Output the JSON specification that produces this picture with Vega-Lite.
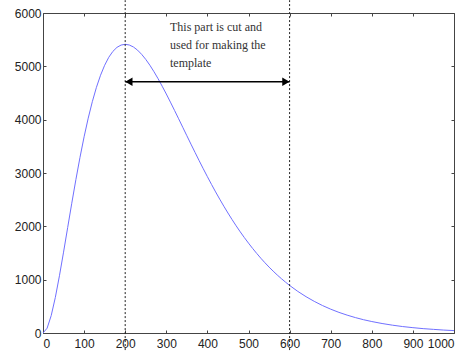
{
  "$schema": "https://vega.github.io/schema/vega-lite/v6.json",
  "width": 411,
  "height": 320,
  "autosize": "none",
  "padding": {"left": 43, "top": 13, "right": 20, "bottom": 28},
  "background": "white",
  "config": {
    "view": {"stroke": null},
    "axis": {
      "grid": false,
      "domainColor": "#444",
      "tickColor": "#444",
      "labelColor": "#222",
      "labelFont": "Liberation Sans",
      "labelFontSize": 12,
      "tickSize": -3,
      "labelPadding": 5,
      "format": "d",
      "title": null
    }
  },
  "datasets": {
    "curve": [
      {"x":0,"y":0},{"x":10,"y":90},{"x":20,"y":328},{"x":30,"y":667},{"x":40,"y":1073},{"x":50,"y":1516},{"x":60,"y":1976},{"x":70,"y":2433},{"x":80,"y":2876},{"x":90,"y":3293},{"x":100,"y":3679},{"x":110,"y":4028},{"x":120,"y":4337},{"x":130,"y":4606},{"x":140,"y":4833},{"x":150,"y":5020},{"x":160,"y":5169},{"x":170,"y":5280},{"x":180,"y":5356},{"x":190,"y":5399},{"x":200,"y":5413},{"x":210,"y":5400},{"x":220,"y":5363},{"x":230,"y":5304},{"x":240,"y":5225},{"x":250,"y":5130},{"x":260,"y":5021},{"x":270,"y":4899},{"x":280,"y":4768},{"x":290,"y":4627},{"x":300,"y":4481},{"x":310,"y":4329},{"x":320,"y":4174},{"x":330,"y":4017},{"x":340,"y":3858},{"x":350,"y":3699},{"x":360,"y":3541},{"x":370,"y":3385},{"x":380,"y":3230},{"x":390,"y":3079},{"x":400,"y":2931},{"x":410,"y":2786},{"x":420,"y":2645},{"x":430,"y":2509},{"x":440,"y":2377},{"x":450,"y":2250},{"x":460,"y":2127},{"x":470,"y":2009},{"x":480,"y":1896},{"x":490,"y":1788},{"x":500,"y":1685},{"x":510,"y":1586},{"x":520,"y":1492},{"x":530,"y":1402},{"x":540,"y":1317},{"x":550,"y":1236},{"x":560,"y":1160},{"x":570,"y":1087},{"x":580,"y":1019},{"x":590,"y":954},{"x":600,"y":892},{"x":620,"y":780},{"x":640,"y":681},{"x":660,"y":593},{"x":680,"y":515},{"x":700,"y":447},{"x":720,"y":387},{"x":740,"y":335},{"x":760,"y":289},{"x":780,"y":249},{"x":800,"y":215},{"x":825,"y":178},{"x":850,"y":147},{"x":875,"y":121},{"x":900,"y":100},{"x":925,"y":82},{"x":950,"y":68},{"x":975,"y":55},{"x":1000,"y":45}
    ],
    "vlines": [
      {"x": 200, "y": -320, "y2": 6240},
      {"x": 600, "y": -320, "y2": 6240}
    ],
    "arrow": [
      {"x": 200, "x2": 600, "y": 4712}
    ],
    "heads": [
      {"x": 209, "y": 4712, "dir": "triangle-left"},
      {"x": 591, "y": 4712, "dir": "triangle-right"}
    ],
    "notes": [
      {"x": 309, "y": 5662, "text": "This part is cut and"},
      {"x": 309, "y": 5325, "text": "used for making the"},
      {"x": 309, "y": 4987, "text": "template"}
    ]
  },
  "layer": [
    {
      "data": {"name": "curve"},
      "mark": {"type": "line", "color": "#7070ff", "strokeWidth": 1},
      "encoding": {
        "x": {"field": "x", "type": "quantitative",
              "scale": {"domain": [0, 1000], "nice": false},
              "axis": {"orient": "bottom", "labelPadding": 8, "values": [0,100,200,300,400,500,600,700,800,900,1000]}},
        "y": {"field": "y", "type": "quantitative",
              "scale": {"domain": [0, 6000], "nice": false},
              "axis": {"orient": "left", "values": [0,1000,2000,3000,4000,5000,6000]}}
      }
    },
    {
      "data": {"name": "vlines"},
      "mark": {"type": "rule", "color": "#222", "strokeWidth": 1, "strokeDash": [2, 2]},
      "encoding": {
        "x": {"field": "x", "type": "quantitative",
              "scale": {"domain": [0, 1000], "nice": false},
              "axis": {"orient": "top", "labels": false, "values": [0,100,200,300,400,500,600,700,800,900,1000]}},
        "y": {"field": "y", "type": "quantitative",
              "scale": {"domain": [0, 6000], "nice": false},
              "axis": {"orient": "right", "labels": false, "values": [0,1000,2000,3000,4000,5000,6000]}},
        "y2": {"field": "y2"}
      }
    },
    {
      "data": {"name": "arrow"},
      "mark": {"type": "rule", "color": "#000", "strokeWidth": 1.5},
      "encoding": {
        "x": {"field": "x", "type": "quantitative", "scale": {"domain": [0, 1000], "nice": false}, "axis": null},
        "x2": {"field": "x2"},
        "y": {"field": "y", "type": "quantitative", "scale": {"domain": [0, 6000], "nice": false}, "axis": null}
      }
    },
    {
      "data": {"name": "heads"},
      "mark": {"type": "point", "filled": true, "color": "#000", "size": 70, "opacity": 1},
      "encoding": {
        "x": {"field": "x", "type": "quantitative", "scale": {"domain": [0, 1000], "nice": false}, "axis": null},
        "y": {"field": "y", "type": "quantitative", "scale": {"domain": [0, 6000], "nice": false}, "axis": null},
        "shape": {"field": "dir", "type": "nominal", "scale": null, "legend": null}
      }
    },
    {
      "data": {"name": "notes"},
      "mark": {"type": "text", "align": "left", "baseline": "alphabetic", "font": "Liberation Serif", "fontSize": 12, "color": "#333"},
      "encoding": {
        "x": {"field": "x", "type": "quantitative", "scale": {"domain": [0, 1000], "nice": false}, "axis": null},
        "y": {"field": "y", "type": "quantitative", "scale": {"domain": [0, 6000], "nice": false}, "axis": null},
        "text": {"field": "text"}
      }
    }
  ],
  "resolve": {"axis": {"x": "independent", "y": "independent"}}
}
